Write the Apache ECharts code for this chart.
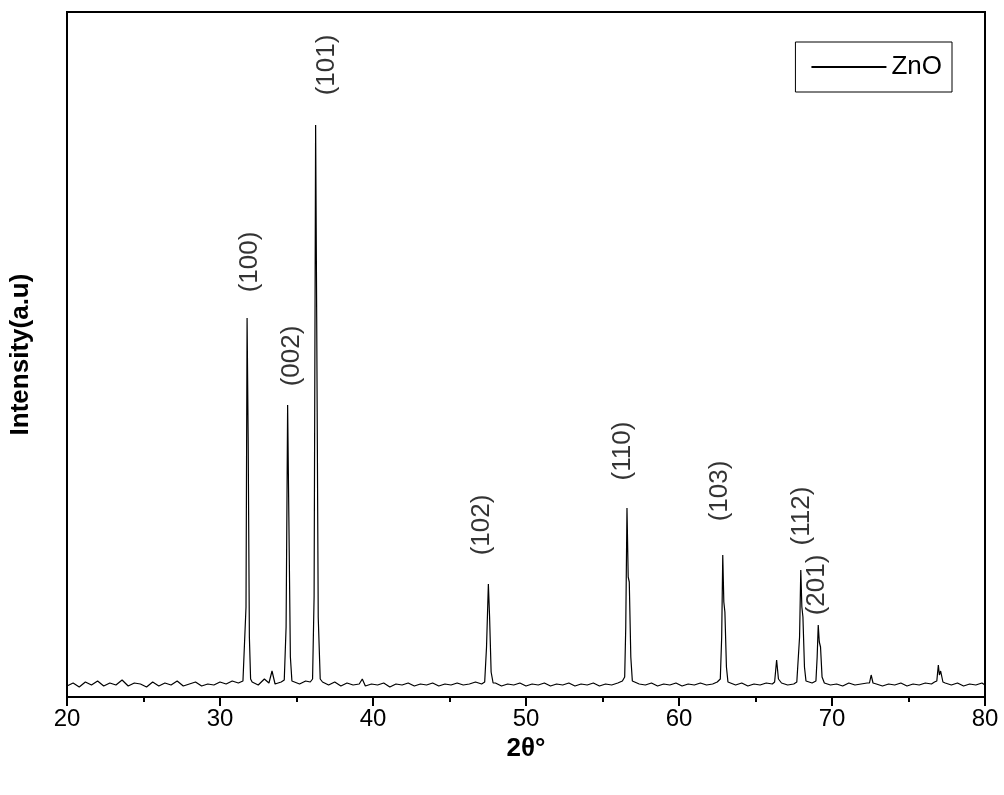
<!DOCTYPE html>
<html><head><meta charset="utf-8">
<script src="https://cdn.jsdelivr.net/npm/echarts@6/dist/echarts.min.js"></script>
<style>body{margin:0}#c{width:1004px;height:795px}</style></head>
<body><div id="c"></div>
<script>
// XRD pattern, ZnO
var baseline = [
 [20,11],[20.4,14],[20.8,10],[21.2,15],[21.6,12],[22,16],[22.4,11],[22.8,14],[23.2,12],[23.6,17],[24,11],[24.4,14],
 [24.8,13],[25.2,10],[25.6,15],[26,11],[26.4,14],[26.8,12],[27.2,16],[27.6,11],[28,13],[28.4,15],[28.8,11],[29.2,13],
 [29.6,12],[30,15],[30.4,13],[30.8,16],[31.2,14],[31.5,16],
 [32.1,15],[32.5,12],[32.9,18],[33.2,14],[33.4,26],[33.6,13],[34.0,15],
 [34.8,14],[35.2,13],[35.6,16],[35.9,15],
 [36.7,15],[37.1,12],[37.5,15],[37.9,11],[38.3,14],[38.7,12],[39.1,13],[39.3,18],[39.5,11],[39.9,13],[40.3,12],
 [40.7,14],[41.1,10],[41.5,13],[41.9,12],[42.3,14],[42.7,11],[43.1,13],[43.5,12],[43.9,14],[44.3,11],[44.7,13],
 [45.1,12],[45.5,14],[45.9,12],[46.3,13],[46.7,15],[47.1,13],
 [48.0,14],[48.4,11],[48.8,13],[49.2,12],[49.6,14],[50,11],[50.4,13],[50.8,12],[51.2,14],[51.6,11],[52,13],[52.4,12],
 [52.8,14],[53.2,11],[53.6,13],[54,12],[54.4,14],[54.8,11],[55.2,13],[55.6,12],[56.0,14],[56.3,16],
 [57.0,16],[57.4,13],[57.8,12],[58.2,14],[58.6,11],[59,13],[59.4,12],[59.8,14],[60.2,11],[60.6,13],[61,12],[61.4,14],
 [61.8,12],[62.2,13],[62.5,15],
 [63.3,15],[63.7,12],[64.1,14],[64.5,11],[64.9,13],[65.3,12],[65.7,14],[66.1,13],
 [66.7,14],[67.1,12],[67.5,13],[67.7,15],
 [68.4,15],[68.7,14],
 [69.5,14],[69.9,12],[70.3,13],[70.7,11],[71.1,14],[71.5,12],[71.9,13],[72.3,14],
 [72.9,13],[73.3,11],[73.7,13],[74.1,12],[74.5,14],[74.9,11],[75.3,13],[75.7,12],[76.1,14],[76.5,13],[76.7,15],
 [77.4,14],[77.8,12],[78.2,14],[78.6,11],[79,13],[79.4,12],[79.8,14],[80,12]
];
var peaks = [
 [31.6,18],[31.7,90],[31.77,379],[31.84,260],[31.92,60],[32.0,18],
 [34.2,17],[34.32,70],[34.42,292],[34.5,180],[34.6,40],[34.7,16],
 [36.05,18],[36.15,100],[36.25,572],[36.32,380],[36.42,80],[36.55,18],
 [47.3,15],[47.42,50],[47.54,113],[47.62,80],[47.72,25],[47.85,14],
 [56.45,20],[56.52,70],[56.6,189],[56.68,120],[56.75,115],[56.85,40],[56.95,16],
 [62.7,18],[62.79,60],[62.86,142],[62.93,95],[63.0,85],[63.1,30],[63.2,15],
 [66.25,15],[66.38,37],[66.5,18],
 [67.8,16],[67.88,60],[67.96,127],[68.03,90],[68.1,80],[68.2,30],[68.3,16],
 [68.95,16],[69.03,40],[69.1,72],[69.17,55],[69.25,50],[69.35,20],
 [72.45,14],[72.56,22],[72.68,14],
 [76.85,16],[76.95,32],[77.02,22],[77.1,26],[77.25,15]
];
var labels = [
 ['(100)',31.94,435],['(002)',34.71,341],['(101)',36.97,632],['(102)',47.1,172],
 ['(110)',56.32,246],['(103)',62.65,206],['(112)',68.06,181],['(201)',69.03,112]
];
var xTicks = [20,30,40,50,60,70,80];

var pattern = baseline.concat(peaks).sort(function(a,b){return a[0]-b[0];});
var chart = echarts.init(document.getElementById('c'));
chart.setOption({
  animation:false,
  backgroundColor:'#fff',
  grid:{left:55,right:19,top:12,bottom:98,show:true,borderColor:'#000',borderWidth:2},
  legend:{right:52,top:42,itemWidth:75,itemHeight:2,padding:[12,10,12,16],borderColor:'#000',borderWidth:1,
    textStyle:{fontFamily:'Liberation Sans',fontSize:26,color:'#000'},data:[{name:'ZnO',icon:'rect'}]},
  xAxis:{type:'value',min:20,max:80,interval:10,
    name:'2θ°',nameLocation:'middle',nameGap:32,
    nameTextStyle:{fontFamily:'Liberation Sans',fontWeight:'bold',fontSize:26,color:'#000'},
    axisLine:{lineStyle:{color:'#000',width:2}},
    axisTick:{length:9,lineStyle:{color:'#000',width:2}},
    minorTick:{show:true,splitNumber:2,length:5,lineStyle:{color:'#000',width:2}},
    axisLabel:{fontFamily:'Liberation Sans',fontSize:24,color:'#000',margin:10,
      formatter:function(v){return xTicks.indexOf(v)>=0?String(v):'';}},
    splitLine:{show:false}},
  yAxis:{type:'value',min:0,max:685,
    name:'Intensity(a.u)',nameLocation:'middle',nameGap:33,
    nameTextStyle:{fontFamily:'Liberation Sans',fontWeight:'bold',fontSize:26,color:'#000'},
    axisLine:{show:true,lineStyle:{color:'#000',width:2}},axisTick:{show:false},axisLabel:{show:false},splitLine:{show:false}},
  series:[
    {name:'ZnO',type:'line',data:pattern,showSymbol:false,lineStyle:{color:'#000',width:1.2},itemStyle:{color:'#000'}},
    {type:'scatter',symbolSize:0,silent:true,data:labels.map(function(l){return {value:[l[1],l[2]],name:l[0]};}),
     label:{show:true,position:'inside',rotate:90,formatter:'{b}',fontFamily:'Liberation Sans',fontSize:26,color:'#000'}}
  ]
});
</script></body></html>
